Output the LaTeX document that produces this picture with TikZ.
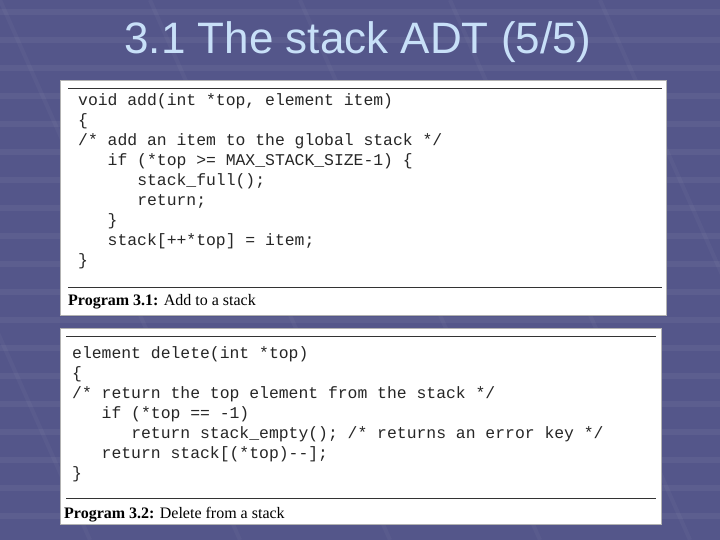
\documentclass[tikz,border=0pt]{standalone}
\usepackage{fontspec}
\setmainfont{Liberation Serif}
\setsansfont{Liberation Sans}
\setmonofont{Liberation Mono}
\begin{document}
\begin{tikzpicture}[x=1pt,y=-1pt,
  code/.style={anchor=west,inner sep=0pt,font=\ttfamily\fontsize{16.4}{16}\selectfont,text=black!85},
  captxt/.style={anchor=west,inner sep=0pt,font=\fontsize{16}{16}\selectfont},
  box/.style={fill=white,draw=black!30,line width=0.8pt},
  rule/.style={draw=black!80,line width=1pt}]
\useasboundingbox (0,0) rectangle (720,540);
\fill[color={rgb,255:red,84;green,86;blue,138}] (0,0) rectangle (720,540);
\foreach \y in {12,40,68,96,124,152,180,208,236,264,292,320,348,376,404,432,460,488,516}
  \draw[white,opacity=0.05,line width=6pt] (0,\y) -- (720,\y);
\foreach \x in {-300,-150,0,150,300,450,600}
  \draw[white,opacity=0.03,line width=4pt] (\x,0) -- (\x+240,540);
\node[inner sep=0pt,font=\sffamily\fontsize{44}{44}\selectfont,text={rgb,255:red,200;green,224;blue,248}] (title) at (358,42) {3.1 The stack ADT (5/5)};
% box 1
\node[box,minimum width=606,minimum height=235,anchor=north west,inner sep=0pt] (b1) at (60,80) {};
\draw[rule] (68,89) -- (662,89);
\foreach \t [count=\i from 0] in {{void add(int *top, element item)},{\{},{/* add an item to the global stack */},{\ \ \ if (*top >= MAX\_STACK\_SIZE-1) \{},{\ \ \ \ \ \ stack\_full();},{\ \ \ \ \ \ return;},{\ \ \ \}},{\ \ \ stack[++*top] = item;},{\}}}
  \node[code] (a\i) at (78,102+20*\i) {\strut\t};
\draw[rule,line width=0.6pt] (68,287) -- (662,287);
\node[captxt] (c1) at (68,302) {\textbf{Program 3.1:} Add to a stack};
% box 2
\node[box,minimum width=601,minimum height=196,anchor=north west,inner sep=0pt] (b2) at (60,328) {};
\draw[rule] (66,336) -- (656,336);
\foreach \t [count=\i from 0] in {{element delete(int *top)},{\{},{/* return the top element from the stack */},{\ \ \ if (*top == -1)},{\ \ \ \ \ \ return stack\_empty(); /* returns an error key */},{\ \ \ return stack[(*top)--];},{\}}}
  \node[code] (d\i) at (72,355+20*\i) {\strut\t};
\draw[rule,line width=0.6pt] (66,498) -- (656,498);
\node[captxt] (c2) at (64,515) {\textbf{Program 3.2:} Delete from a stack};
\end{tikzpicture}
\end{document}
